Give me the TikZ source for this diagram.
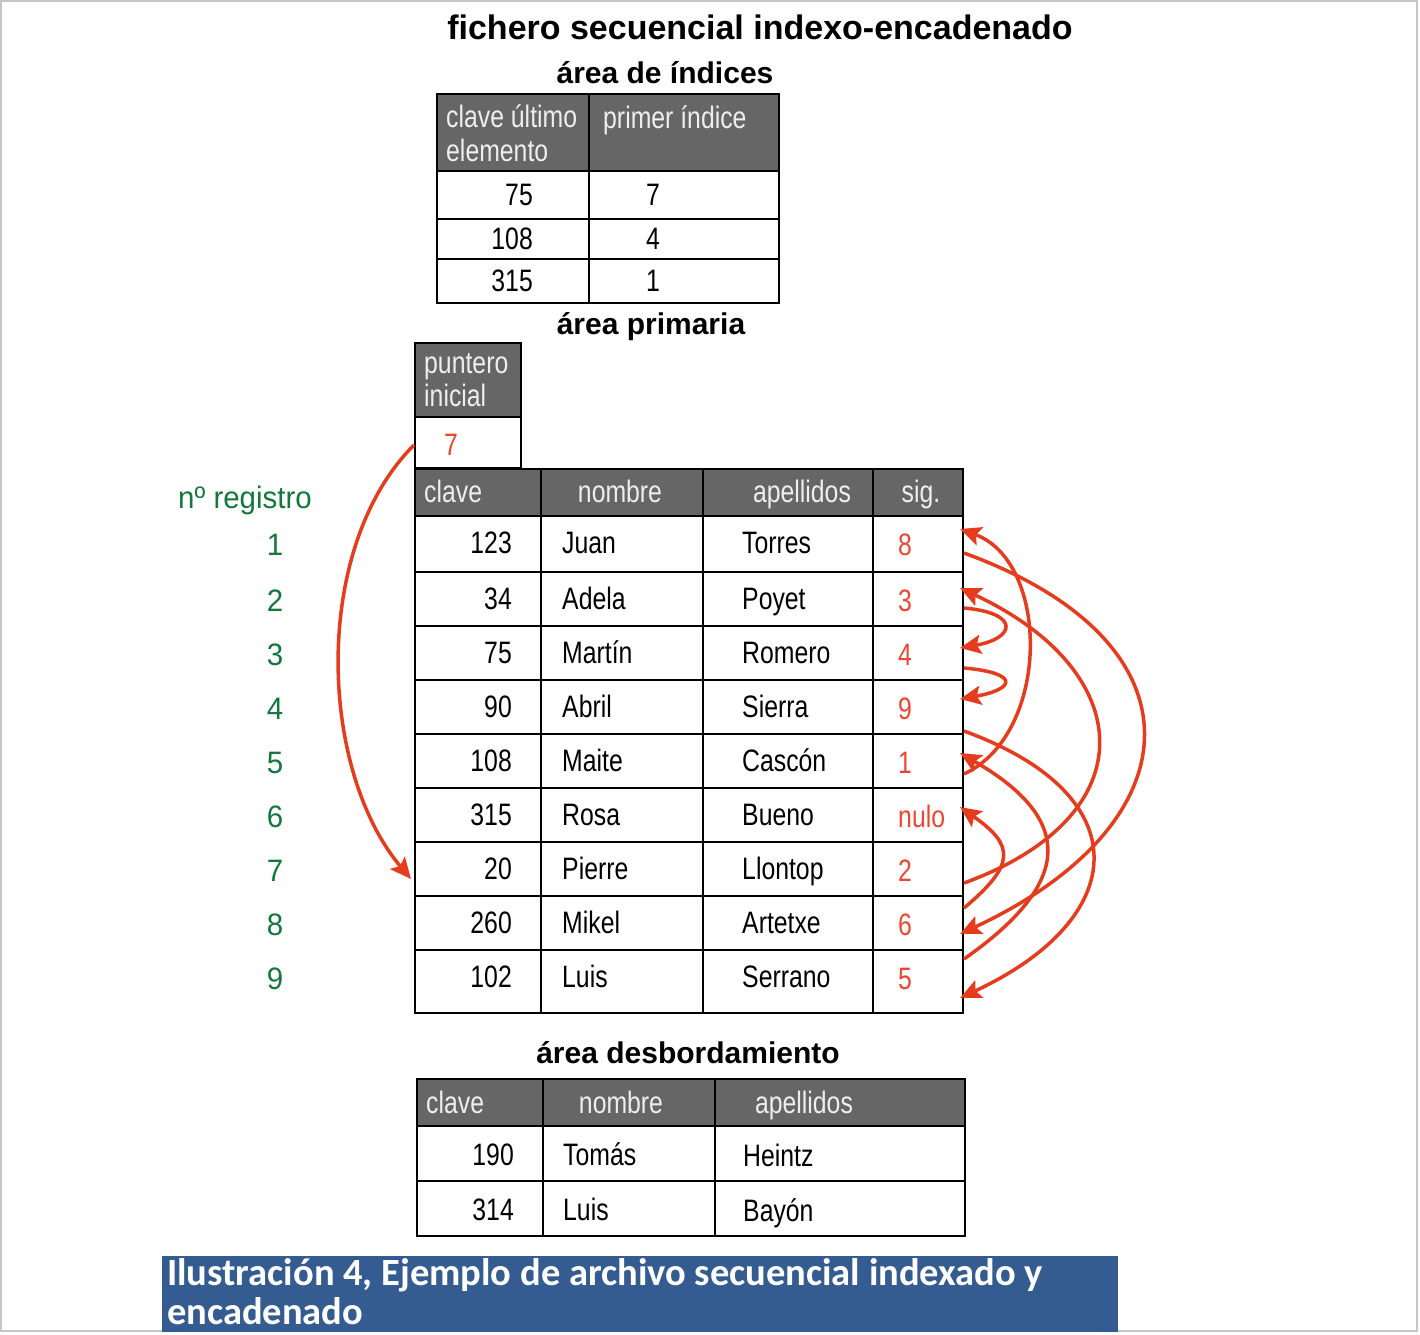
\documentclass[tikz,border=0pt]{standalone}
\usepackage{fontspec}
\setmainfont{Liberation Sans}
\newfontfamily\tabfont[FakeStretch=0.8]{Liberation Sans}
\newfontfamily\regfont[FakeStretch=0.95]{Liberation Sans}
\newfontfamily\capfont{Carlito}
\usetikzlibrary{arrows.meta}
\definecolor{hdgray}{RGB}{102,102,102}
\definecolor{hdtext}{RGB}{238,238,238}
\definecolor{sigred}{RGB}{235,70,50}
\definecolor{linkred}{RGB}{230,60,30}
\definecolor{regreen}{RGB}{20,120,60}
\definecolor{capblue}{RGB}{52,92,144}

\begin{document}
\begin{tikzpicture}[x=1pt,y=-1pt,
  cell/.style={draw=black, line width=2pt, anchor=north west, inner sep=0pt},
  hdcell/.style={cell, fill=hdgray},
  tt/.style={font=\tabfont\fontsize{31}{34}\selectfont, inner sep=0pt, text height=22pt, text depth=0pt},
  hdtt/.style={tt, text=hdtext},
  sigt/.style={tt, text=sigred},
  reg/.style={font=\regfont\fontsize{31}{34}\selectfont, inner sep=0pt, text height=22pt, text depth=0pt, text=regreen},
  area/.style={font=\bfseries\fontsize{30}{34}\selectfont, inner sep=0pt},
  link/.style={draw=linkred, line width=3.5pt, -{Stealth[length=21pt,width=19pt,inset=4pt]}}]
\useasboundingbox (0,0) rectangle (1420,1334);
\draw[gray!45, line width=2pt] (1,1) rectangle (1417,1331);

% titles
\node[font=\bfseries\fontsize{34}{38}\selectfont, inner sep=0pt] (title) at (760,27) {fichero secuencial indexo-encadenado};
\node[area] (aind) at (665,73) {área de índices};
\node[area] (aprim) at (651,327) {área primaria};
\node[area] (adesb) at (688,1053) {área desbordamiento};

% area de indices
\node[hdcell, minimum width=152, minimum height=77] (ih1) at (436,93) {};
\node[hdcell, minimum width=190, minimum height=77] (ih2) at (588,93) {};
\node[hdtt, anchor=west] (iht1) at (446,116) {clave último};
\node[hdtt, anchor=west] (iht2) at (446,150) {elemento};
\node[hdtt, anchor=west] (iht3) at (603,117) {primer índice};
\foreach \n/\y/\h/\k/\p in {1/170/48/75/7, 2/218/40/108/4, 3/258/44/315/1}{
  \node[cell, minimum width=152, minimum height=\h] (ik\n) at (436,\y) {};
  \node[cell, minimum width=190, minimum height=\h] (ip\n) at (588,\y) {};
  \node[tt, anchor=east] (ikt\n) at (533,\y+\h/2) {\k};
  \node[tt] (ipt\n) at (653,\y+\h/2) {\p};
}

% puntero inicial
\node[hdcell, minimum width=106, minimum height=74] (ph) at (414,342) {};
\node[hdtt, anchor=west] (pht1) at (424,362) {puntero};
\node[hdtt, anchor=west] (pht2) at (424,395) {inicial};
\node[cell, minimum width=106, minimum height=51] (pv) at (414,416) {};
\node[sigt] (pvt) at (451,444) {7};

% area primaria
\node[hdcell, minimum width=126, minimum height=47] (hk) at (414,468) {};
\node[hdcell, minimum width=162, minimum height=47] (hn) at (540,468) {};
\node[hdcell, minimum width=170, minimum height=47] (ha) at (702,468) {};
\node[hdcell, minimum width=90, minimum height=47] (hs) at (872,468) {};
\node[hdtt, anchor=west] (hkt) at (424,491) {clave};
\node[hdtt] (hnt) at (620,491) {nombre};
\node[hdtt] (hat) at (802,491) {apellidos};
\node[hdtt] (hst) at (921,491) {sig.};
\node[reg] (nreg) at (245,497) {nº registro};
\foreach \n/\y/\h/\k/\nom/\ap/\sg in {1/515/56/123/Juan/Torres/8, 2/571/54/34/Adela/Poyet/3,
    3/625/54/75/Martín/Romero/4, 4/679/54/90/Abril/Sierra/9, 5/733/54/108/Maite/Cascón/1,
    6/787/54/315/Rosa/Bueno/nulo, 7/841/54/20/Pierre/Llontop/2, 8/895/54/260/Mikel/Artetxe/6,
    9/949/63/102/Luis/Serrano/5}{
  \node[cell, minimum width=126, minimum height=\h] (k\n) at (414,\y) {};
  \node[cell, minimum width=162, minimum height=\h] (nm\n) at (540,\y) {};
  \node[cell, minimum width=170, minimum height=\h] (ap\n) at (702,\y) {};
  \node[cell, minimum width=90, minimum height=\h] (s\n) at (872,\y) {};
  \node[tt, anchor=east] (kt\n) at (512,\y+27) {\k};
  \node[tt, anchor=west] (nmt\n) at (562,\y+27) {\nom};
  \node[tt, anchor=west] (apt\n) at (742,\y+27) {\ap};
  \node[sigt, anchor=west] (st\n) at (898,\y+29) {\sg};
  \node[reg] (r\n) at (275,\y+29) {\n};
}

% encadenamiento
\draw[link] ([shift={(0,2.5)}]pv.west) to[out=225,in=130,looseness=0.85] ([shift={(-3,10)}]k7.west);
\draw[link] ([shift={(0,9)}]s1.east) to[out=-20,in=25,looseness=1.75] ([shift={(-4,11)}]s8.east);
\draw[link] ([shift={(0,9)}]s2.east) to[out=-5,in=10,looseness=3.6] ([shift={(-4,-5)}]s3.east);
\draw[link] ([shift={(0,15)}]s3.east) to[out=-5,in=10,looseness=4.6] ([shift={(-4,-8)}]s4.east);
\draw[link] ([shift={(0,24)}]s4.east) to[out=-20,in=25,looseness=1.8] ([shift={(-4,16.5)}]s9.east);
\draw[link] ([shift={(0,13)}]s5.east) to[out=25,in=-20,looseness=1] ([shift={(-4,-15)}]s1.east);
\draw[link] ([shift={(0,14)}]s7.east) to[out=20,in=-25,looseness=1.7] ([shift={(-4,-11)}]s2.east);
\draw[link] ([shift={(0,-15)}]s8.east) to[out=40,in=-35,looseness=1.7] ([shift={(-4,-8)}]s6.east);
\draw[link] ([shift={(0,-22.5)}]s9.east) to[out=35,in=-30,looseness=1.65] ([shift={(-4,-8)}]s5.east);

% area desbordamiento
\node[hdcell, minimum width=126, minimum height=47] (dhk) at (416,1078) {};
\node[hdcell, minimum width=172, minimum height=47] (dhn) at (542,1078) {};
\node[hdcell, minimum width=250, minimum height=47] (dha) at (714,1078) {};
\node[hdtt, anchor=west] (dhkt) at (426,1102) {clave};
\node[hdtt] (dhnt) at (621,1102) {nombre};
\node[hdtt] (dhat) at (804,1102) {apellidos};
\foreach \n/\y/\k/\nom/\ap in {1/1125/190/Tomás/Heintz, 2/1180/314/Luis/Bayón}{
  \node[cell, minimum width=126, minimum height=55] (dk\n) at (416,\y) {};
  \node[cell, minimum width=172, minimum height=55] (dn\n) at (542,\y) {};
  \node[cell, minimum width=250, minimum height=55] (da\n) at (714,\y) {};
  \node[tt, anchor=east] (dkt\n) at (514,\y+29) {\k};
  \node[tt, anchor=west] (dnt\n) at (563,\y+29) {\nom};
  \node[tt, anchor=west] (dat\n) at (743,\y+30) {\ap};
}

% pie
\fill[capblue] (162,1256) rectangle (1118,1332);
\node[anchor=north west, inner sep=0pt, align=left, text=white, font=\capfont\bfseries\fontsize{38.5}{39}\selectfont] (cap) at (167,1258) {Ilustración 4, Ejemplo de archivo secuencial indexado y\\encadenado};
\end{tikzpicture}
\end{document}
